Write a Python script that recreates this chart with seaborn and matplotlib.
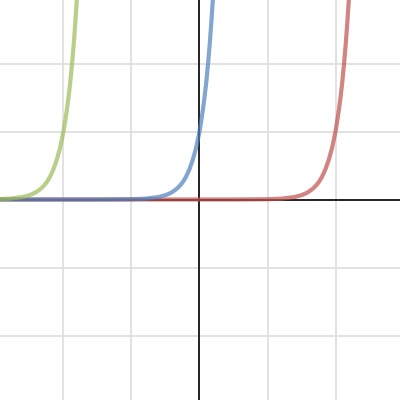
import numpy as np
import pandas as pd
import matplotlib
matplotlib.use('Agg')
import matplotlib.pyplot as plt
import seaborn as sns

# Values (grid spacing = 1 unit)
shape_y = [0.0, 0.0003, 0.004, 0.012, 0.037, 0.064, 0.084, 0.11, 0.146, 0.19, 0.25,
           0.33, 0.44, 0.58, 0.76, 1.0, 1.15, 1.32, 1.51, 1.73, 1.99, 2.28, 2.62, 3.0, 3.4]

green_x = [-2.95, -2.93, -2.93, -2.8, -2.6, -2.5, -2.45, -2.4, -2.35, -2.3, -2.25,
           -2.2, -2.15, -2.1, -2.05, -2.0, -1.975, -1.95, -1.925, -1.9, -1.875, -1.85, -1.825, -1.8, -1.777]
green_y = [0.006, 0.006, 0.006, 0.012, 0.037, 0.064, 0.084, 0.11, 0.146, 0.19, 0.25,
           0.33, 0.44, 0.58, 0.76, 1.0, 1.15, 1.32, 1.51, 1.73, 1.99, 2.28, 2.62, 3.0, 3.4]

blue_x = [-2.95, -1.5, -1.0, -0.8, -0.6, -0.5, -0.45, -0.4, -0.35, -0.3, -0.25,
          -0.2, -0.15, -0.1, -0.05, 0.0, 0.025, 0.05, 0.075, 0.1, 0.125, 0.15, 0.175, 0.2, 0.223]

red_x = [-2.95, 0.5, 1.0, 1.2, 1.4, 1.5, 1.55, 1.6, 1.65, 1.7, 1.75,
         1.8, 1.85, 1.9, 1.95, 2.0, 2.025, 2.05, 2.075, 2.1, 2.125, 2.15, 2.175, 2.2, 2.223]

grid_ticks = [-2, -1, 1, 2]

colors = {'red': '#c0504d', 'blue': '#4f81bd', 'green': '#9bbb59'}

sns.set_style('white')
fig = plt.figure(figsize=(4, 4), dpi=100)
ax = fig.add_axes([0, 0, 1, 1])

ax.set_xlim(-199.5 / 68, 200.5 / 68)
ax.set_ylim(-200.5 / 68, 199.5 / 68)

ax.set_xticks(grid_ticks)
ax.set_yticks(grid_ticks)
ax.grid(True, color='#dddddd', linewidth=1.2)
ax.tick_params(length=0, labelbottom=False, labelleft=False)
for s in ax.spines.values():
    s.set_visible(False)

ax.axhline(0, color='#222222', linewidth=1.4, zorder=1)
ax.axvline(0, color='#222222', linewidth=1.4, zorder=1)

# Draw order: red, blue, green
sns.lineplot(x=red_x, y=shape_y, sort=False, estimator=None, ax=ax,
             color=colors['red'], alpha=0.7, linewidth=3, zorder=2)
sns.lineplot(x=blue_x, y=shape_y, sort=False, estimator=None, ax=ax,
             color=colors['blue'], alpha=0.7, linewidth=3, zorder=3)
sns.lineplot(x=green_x, y=green_y, sort=False, estimator=None, ax=ax,
             color=colors['green'], alpha=0.7, linewidth=3, zorder=4)

fig.savefig('out.png', dpi=100)
